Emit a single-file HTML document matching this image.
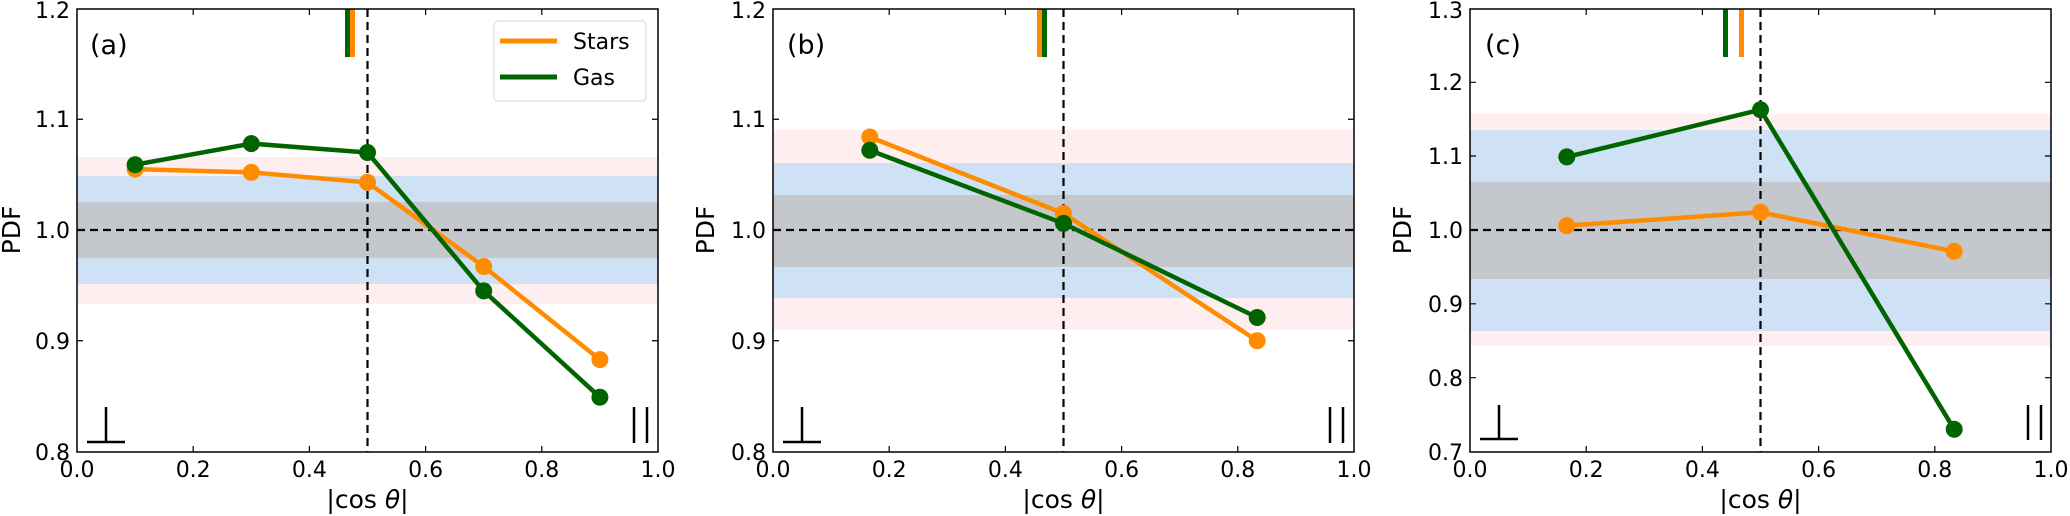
<!DOCTYPE html>
<html><head><meta charset="utf-8"><style>body{margin:0;background:#fff}svg{display:block}text{font-family:"DejaVu Sans","Liberation Sans",sans-serif;fill:#000}</style></head><body>
<svg width="2070" height="516" viewBox="0 0 2070 516" xmlns="http://www.w3.org/2000/svg">
<!-- Panel a -->
<g>
<rect x="77" y="157" width="581" height="147" fill="#ffeef0"/>
<rect x="77" y="176" width="581" height="108" fill="#cfe2f5"/>
<rect x="77" y="202" width="581" height="56" fill="#c4c7cc"/>
<line x1="77" y1="230" x2="658" y2="230" stroke="#000" stroke-width="2.2" stroke-dasharray="8,5"/>
<line x1="367.5" y1="9" x2="367.5" y2="452" stroke="#000" stroke-width="2.2" stroke-dasharray="8,5"/>
<rect x="345" y="9" width="5" height="48" fill="#006400"/><rect x="350" y="9" width="5" height="48" fill="#ff8c00"/>
<polyline points="135.1,169.1 251.3,172.4 367.5,182.4 483.7,266.5 599.9,359.6" fill="none" stroke="#ff8c00" stroke-width="4.5"/>
<g fill="#ff8c00"><circle cx="135.1" cy="169.1" r="8.5"/><circle cx="251.3" cy="172.4" r="8.5"/><circle cx="367.5" cy="182.4" r="8.5"/><circle cx="483.7" cy="266.5" r="8.5"/><circle cx="599.9" cy="359.6" r="8.5"/></g>
<polyline points="135.1,164.7 251.3,143.6 367.5,152.5 483.7,290.9 599.9,397.2" fill="none" stroke="#006400" stroke-width="4.5"/>
<g fill="#006400"><circle cx="135.1" cy="164.7" r="8.5"/><circle cx="251.3" cy="143.6" r="8.5"/><circle cx="367.5" cy="152.5" r="8.5"/><circle cx="483.7" cy="290.9" r="8.5"/><circle cx="599.9" cy="397.2" r="8.5"/></g>
<rect x="77" y="9" width="581" height="443" fill="none" stroke="#000" stroke-width="1.5"/>
<g stroke="#000" stroke-width="1.2"><path d="M193.2 452v-6M309.4 452v-6M425.6 452v-6M541.8 452v-6M193.2 9v6M309.4 9v6M425.6 9v6M541.8 9v6M77 119.25h6M77 340.75h6M658 119.25h-6M658 340.75h-6M658 230h-6M77 230h6"/></g>
<rect x="494" y="21" width="152" height="80" rx="4" fill="#fff" fill-opacity="0.85" stroke="#ddd" stroke-width="1.2"/>
<line x1="500" y1="41" x2="557" y2="41" stroke="#ff8c00" stroke-width="5"/>
<line x1="500" y1="77" x2="557" y2="77" stroke="#006400" stroke-width="5"/>
<text x="573" y="49" font-size="22">Stars</text><text x="573" y="85" font-size="22">Gas</text>
<text x="90" y="54" font-size="27">(a)</text>
<path d="M106 407V442M87 442H125" stroke="#000" stroke-width="2.5" fill="none"/>
<path d="M634 407V443M647 407V443" stroke="#000" stroke-width="2.5" fill="none"/>
<g font-size="22" text-anchor="end"><text x="70" y="18">1.2</text><text x="70" y="127">1.1</text><text x="70" y="238">1.0</text><text x="70" y="349">0.9</text><text x="70" y="460">0.8</text></g>
<g font-size="22" text-anchor="middle"><text x="77" y="477">0.0</text><text x="193.2" y="477">0.2</text><text x="309.4" y="477">0.4</text><text x="425.6" y="477">0.6</text><text x="541.8" y="477">0.8</text><text x="658" y="477">1.0</text></g>
<text x="367.5" y="508" font-size="25" text-anchor="middle">|cos <tspan font-style="italic">θ</tspan>|</text>
<text transform="translate(20,230) rotate(-90)" font-size="25" text-anchor="middle">PDF</text>
</g>
<!-- Panel b -->
<g>
<rect x="773" y="130" width="581" height="200" fill="#ffeef0"/>
<rect x="773" y="163" width="581" height="135" fill="#cfe2f5"/>
<rect x="773" y="195" width="581" height="72" fill="#c4c7cc"/>
<line x1="773" y1="230" x2="1354" y2="230" stroke="#000" stroke-width="2.2" stroke-dasharray="8,5"/>
<line x1="1063.5" y1="9" x2="1063.5" y2="452" stroke="#000" stroke-width="2.2" stroke-dasharray="8,5"/>
<rect x="1037" y="9" width="5" height="48" fill="#ff8c00"/><rect x="1042" y="9" width="5" height="48" fill="#006400"/>
<polyline points="869.8,137 1063.5,213.4 1257.2,340.75" fill="none" stroke="#ff8c00" stroke-width="4.5"/>
<g fill="#ff8c00"><circle cx="869.8" cy="137" r="8.5"/><circle cx="1063.5" cy="213.4" r="8.5"/><circle cx="1257.2" cy="340.75" r="8.5"/></g>
<polyline points="869.8,150.3 1063.5,223.4 1257.2,317.5" fill="none" stroke="#006400" stroke-width="4.5"/>
<g fill="#006400"><circle cx="869.8" cy="150.3" r="8.5"/><circle cx="1063.5" cy="223.4" r="8.5"/><circle cx="1257.2" cy="317.5" r="8.5"/></g>
<rect x="773" y="9" width="581" height="443" fill="none" stroke="#000" stroke-width="1.5"/>
<g stroke="#000" stroke-width="1.2"><path d="M889.2 452v-6M1005.4 452v-6M1121.6 452v-6M1237.8 452v-6M889.2 9v6M1005.4 9v6M1121.6 9v6M1237.8 9v6M773 119.25h6M773 340.75h6M1354 119.25h-6M1354 340.75h-6M1354 230h-6M773 230h6"/></g>
<text x="787" y="54" font-size="27">(b)</text>
<path d="M802 407V442M783 442H821" stroke="#000" stroke-width="2.5" fill="none"/>
<path d="M1330 407V443M1343 407V443" stroke="#000" stroke-width="2.5" fill="none"/>
<g font-size="22" text-anchor="end"><text x="766" y="18">1.2</text><text x="766" y="127">1.1</text><text x="766" y="238">1.0</text><text x="766" y="349">0.9</text><text x="766" y="460">0.8</text></g>
<g font-size="22" text-anchor="middle"><text x="773" y="477">0.0</text><text x="889.2" y="477">0.2</text><text x="1005.4" y="477">0.4</text><text x="1121.6" y="477">0.6</text><text x="1237.8" y="477">0.8</text><text x="1354" y="477">1.0</text></g>
<text x="1063.5" y="508" font-size="25" text-anchor="middle">|cos <tspan font-style="italic">θ</tspan>|</text>
<text transform="translate(714,230) rotate(-90)" font-size="25" text-anchor="middle">PDF</text>
</g>
<!-- Panel c -->
<g>
<rect x="1470" y="114" width="581" height="232" fill="#ffeef0"/>
<rect x="1470" y="130" width="581" height="201" fill="#cfe2f5"/>
<rect x="1470" y="182" width="581" height="97" fill="#c4c7cc"/>
<line x1="1470" y1="230" x2="2051" y2="230" stroke="#000" stroke-width="2.2" stroke-dasharray="8,5"/>
<line x1="1760.5" y1="9" x2="1760.5" y2="452" stroke="#000" stroke-width="2.2" stroke-dasharray="8,5"/>
<rect x="1723" y="9" width="5" height="48" fill="#006400"/><rect x="1739" y="9" width="5" height="48" fill="#ff8c00"/>
<polyline points="1566.8,225.6 1760.5,212.3 1954.2,251.4" fill="none" stroke="#ff8c00" stroke-width="4.5"/>
<g fill="#ff8c00"><circle cx="1566.8" cy="225.6" r="8.5"/><circle cx="1760.5" cy="212.3" r="8.5"/><circle cx="1954.2" cy="251.4" r="8.5"/></g>
<polyline points="1566.8,156.9 1760.5,109.7 1954.2,429.3" fill="none" stroke="#006400" stroke-width="4.5"/>
<g fill="#006400"><circle cx="1566.8" cy="156.9" r="8.5"/><circle cx="1760.5" cy="109.7" r="8.5"/><circle cx="1954.2" cy="429.3" r="8.5"/></g>
<rect x="1470" y="9" width="581" height="443" fill="none" stroke="#000" stroke-width="1.5"/>
<g stroke="#000" stroke-width="1.2"><path d="M1586.2 452v-6M1702.4 452v-6M1818.6 452v-6M1934.8 452v-6M1586.2 9v6M1702.4 9v6M1818.6 9v6M1934.8 9v6M1470 82.3h6M1470 156h6M1470 230h6M1470 303.8h6M1470 377.7h6M2051 82.3h-6M2051 156h-6M2051 230h-6M2051 303.8h-6M2051 377.7h-6"/></g>
<text x="1485" y="54" font-size="27">(c)</text>
<path d="M1499 405V439M1480 439H1518" stroke="#000" stroke-width="2.5" fill="none"/>
<path d="M2028 405V440M2041 405V440" stroke="#000" stroke-width="2.5" fill="none"/>
<g font-size="22" text-anchor="end"><text x="1463" y="18">1.3</text><text x="1463" y="90">1.2</text><text x="1463" y="164">1.1</text><text x="1463" y="238">1.0</text><text x="1463" y="312">0.9</text><text x="1463" y="386">0.8</text><text x="1463" y="460">0.7</text></g>
<g font-size="22" text-anchor="middle"><text x="1470" y="477">0.0</text><text x="1586.2" y="477">0.2</text><text x="1702.4" y="477">0.4</text><text x="1818.6" y="477">0.6</text><text x="1934.8" y="477">0.8</text><text x="2051" y="477">1.0</text></g>
<text x="1760.5" y="508" font-size="25" text-anchor="middle">|cos <tspan font-style="italic">θ</tspan>|</text>
<text transform="translate(1411,230) rotate(-90)" font-size="25" text-anchor="middle">PDF</text>
</g>
</svg>
</body></html>
